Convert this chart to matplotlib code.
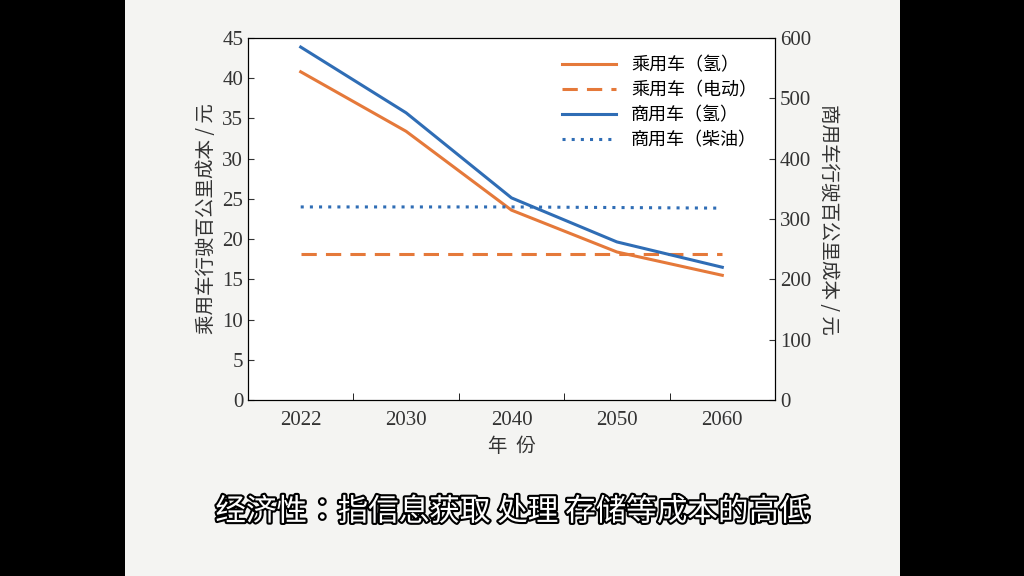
import matplotlib.pyplot as plt
import matplotlib.patheffects as pe
import numpy as np

plt.rcParams["font.family"] = ["Liberation Serif", "Noto Sans CJK JP", "Noto Sans CJK SC",
                               "Noto Sans CJK TC", "Noto Sans CJK KR", "DejaVu Sans"]
CJK = ["Noto Sans CJK JP", "Noto Sans CJK SC", "Noto Sans CJK TC", "Noto Sans CJK KR"]

years = ["2022", "2030", "2040", "2050", "2060"]
car_h2 = [40.8, 33.4, 23.6, 18.4, 15.5]
car_ev = [18.2, 18.2, 18.2, 18.2, 18.2]
truck_h2 = [585, 476, 335, 262, 220]
truck_diesel = [320, 320, 320, 319, 318]

ORANGE = "#e5793a"
BLUE = "#2f6db5"

fig = plt.figure(figsize=(10.24, 5.76), dpi=100, facecolor="black")
panel = fig.add_axes([125 / 1024, 0, 775 / 1024, 1])
panel.set_facecolor("#f4f4f2")
panel.set_xticks([]); panel.set_yticks([])
for s in panel.spines.values():
    s.set_visible(False)

ax = fig.add_axes([248 / 1024, 1 - 400 / 576, 527 / 1024, 362 / 576])
ax.set_facecolor("white")
x = np.arange(len(years))
l1, = ax.plot(x, car_h2, color=ORANGE, lw=2.2, label="乘用车（氢）")
l2, = ax.plot(x, car_ev, color=ORANGE, lw=2.2, ls=(0, (5, 3)), label="乘用车（电动）")
ax.set_xlim(-0.5, 4.5)
ax.set_ylim(0, 45)
ax.set_yticks(range(0, 46, 5))
ax.set_xticks(x)
ax.set_xticklabels(years)
ax.set_xticks(np.arange(0.5, 4, 1), minor=True)
ax.tick_params(axis="x", which="major", length=0, pad=8)
ax.tick_params(axis="x", which="minor", length=5, direction="in")
ax.tick_params(axis="y", direction="in", length=4)
ax.tick_params(labelsize=15, colors="#333333")
ax.set_ylabel("乘用车行驶百公里成本 / 元", fontsize=14, color="#333333", family=CJK)
ax.set_xlabel("年  份", fontsize=14, color="#333333", family=CJK)

ax2 = ax.twinx()
l3, = ax2.plot(x, truck_h2, color=BLUE, lw=2.2, label="商用车（氢）")
l4, = ax2.plot(x, truck_diesel, color=BLUE, lw=2.2, ls=(0, (1, 2)), label="商用车（柴油）")
ax2.set_ylim(0, 600)
ax2.set_yticks(range(0, 601, 100))
ax2.tick_params(axis="y", direction="in", length=4, labelsize=15, colors="#333333")
ax2.set_ylabel("商用车行驶百公里成本 / 元", fontsize=14, color="#333333", rotation=270,
               labelpad=20, family=CJK)

ax.legend(handles=[l1, l2, l3, l4], loc="upper right", frameon=False,
          prop={"family": CJK, "size": 13},
          handlelength=3, labelspacing=0.4, borderaxespad=0.6)

t = fig.text(0.5, 1 - 512 / 576, "经济性：指信息获取 处理 存储等成本的高低", ha="center",
             va="center", fontsize=22, color="white", family=CJK)
t.set_path_effects([pe.withStroke(linewidth=3, foreground="black")])

fig.savefig("out.png", dpi=100, facecolor="black")
